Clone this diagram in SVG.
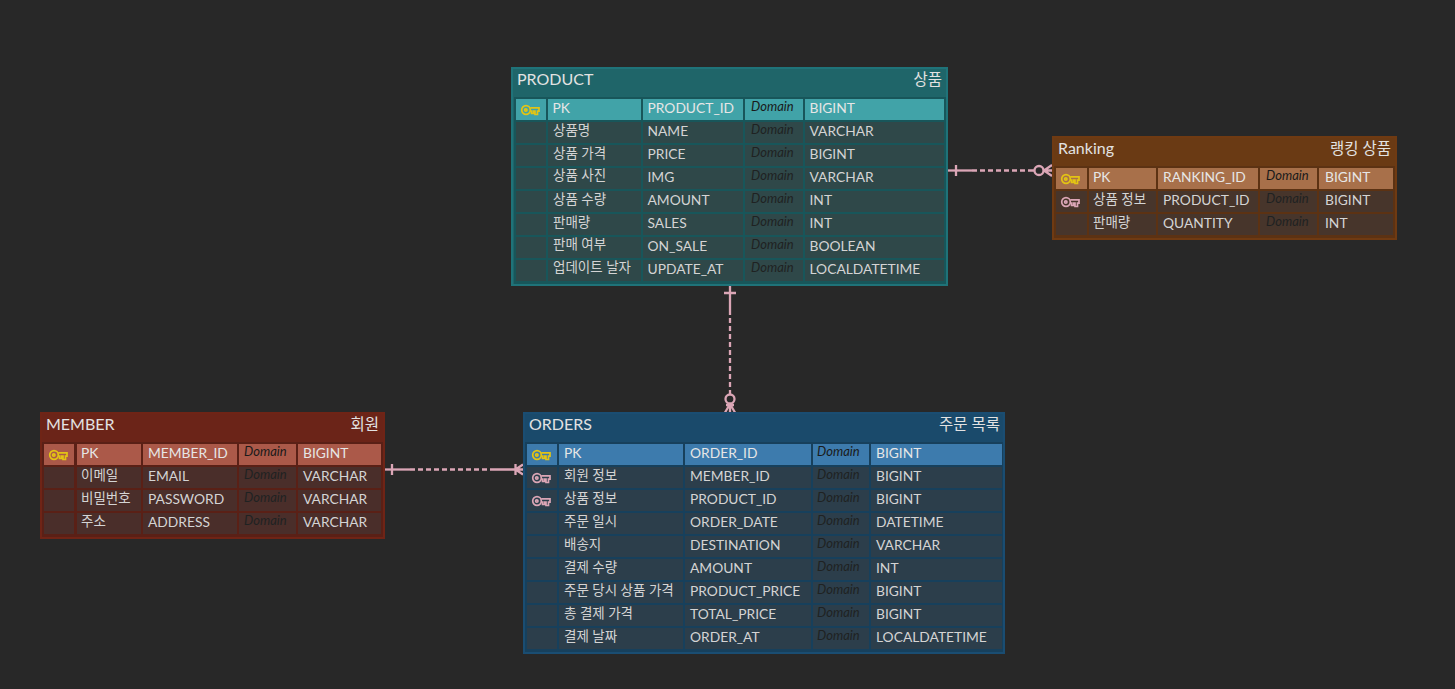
<svg xmlns="http://www.w3.org/2000/svg" width="1455" height="689" viewBox="0 0 1455 689">
<style>
text{font-family:Lato,"Noto Sans CJK KR",sans-serif;font-size:13.8px;fill:#d4d4d4}
.k{font-size:13.5px}
.h{font-size:16px;fill:#e2e2e2}
.e{text-anchor:end;font-size:15.500px}
.d{font-style:italic;font-size:13px;fill:#1f2222}
.p{fill:#e6e6e6}
.pd{fill:#1a1a1a}
.key{fill:none;stroke-width:1.7}
.ky{stroke:#e3c414}
.kp{stroke:#dba6b6}
.c{fill:none;stroke:#dba6b6;stroke-width:2.300}
.ds{stroke-dasharray:5 3}
.prod-row{fill:#2f4849}.prod-pk{fill:#41a3a8}
.rank-row{fill:#47352b}.rank-pk{fill:#a8704a}
.mem-row{fill:#4a2e2a}.mem-pk{fill:#ab5949}
.ord-row{fill:#2c3e4b}.ord-pk{fill:#3d7bad}
</style>
<defs>
<g id="k"><circle cx="5" cy="5" r="4.300"/><circle cx="4.800" cy="5" r="1.200"/><path d="M9.200 2.800H18V6.200H16.500V9.500H14V6.200H12.500V8.500H10.500V6.200H9.200"/></g>
<g id="r-prod"><rect x="516" width="30" height="21"/><rect x="548" width="93" height="21"/><rect x="643" width="100" height="21"/><rect x="745" width="58" height="21"/><rect x="805" width="139" height="21"/></g>
<g id="r-rank"><rect x="1056" width="31" height="21"/><rect x="1089" width="67" height="21"/><rect x="1158" width="100" height="21"/><rect x="1260" width="57" height="21"/><rect x="1319" width="74" height="21"/></g>
<g id="r-mem"><rect x="44" width="30" height="21"/><rect x="77" width="64" height="21"/><rect x="143" width="94" height="21"/><rect x="239" width="57" height="21"/><rect x="298" width="83" height="21"/></g>
<g id="r-ord"><rect x="527" width="30" height="21"/><rect x="559" width="124" height="21"/><rect x="685" width="126" height="21"/><rect x="813" width="56" height="21"/><rect x="871" width="131" height="21"/></g>
</defs>
<rect width="1455" height="689" fill="#282828"/>

<g id="connectors">
<g id="product-ranking"><path class="c" d="M948 170.500H972"/><path class="c ds" d="M972 170.500H1030"/><path class="c" d="M1030 170.500H1034.500M956 165V176M1044 170.500L1052 165M1044 170.500L1052 176M1044 170.500H1052"/><circle class="c" cx="1039" cy="170.500" r="4.500"/></g>
<g id="product-orders"><path class="c" d="M730 286V310"/><path class="c ds" d="M730 310V390"/><path class="c" d="M730 390V394.500M724 293H736M730 404L725 412.500M730 404L735 412.500M730 404V412.500M726 405H734"/><circle class="c" cx="730" cy="399" r="4.500"/></g>
<g id="member-orders"><path class="c" d="M385 469.500H410"/><path class="c ds" d="M410 469.500H495"/><path class="c" d="M495 469.500H523M392 464V475M515.500 464V475M515.500 469.500L523 464.500M515.500 469.500L523 474.500"/></g>
</g>

<g id="product">
<rect x="512" y="68" width="435" height="217" fill="#1f6569" stroke="#1f7379" stroke-width="2"/>
<rect x="514" y="97" width="432" height="187" fill="#18565a"/>
<use href="#r-prod" y="99" class="prod-pk"/>
<use href="#r-prod" y="122" class="prod-row"/><use href="#r-prod" y="145" class="prod-row"/><use href="#r-prod" y="168" class="prod-row"/><use href="#r-prod" y="191" class="prod-row"/><use href="#r-prod" y="214" class="prod-row"/><use href="#r-prod" y="237" class="prod-row"/><use href="#r-prod" y="260" class="prod-row"/>
<text class="h" x="517" y="85">PRODUCT</text><text class="h e" x="942" y="85">상품</text>
<use href="#k" x="521" y="105" class="key ky"/>
<text class="p" x="552.500" y="112.500">PK</text><text class="p" x="647.500" y="112.500">PRODUCT_ID</text><text class="d pd" x="751" y="111">Domain</text><text class="p" x="809.500" y="112.500">BIGINT</text>
<text class="k" x="553" y="135">상품명</text><text x="647.500" y="135.500">NAME</text><text class="d" x="751" y="134">Domain</text><text x="809.500" y="135.500">VARCHAR</text>
<text class="k" x="553" y="158">상품 가격</text><text x="647.500" y="158.500">PRICE</text><text class="d" x="751" y="157">Domain</text><text x="809.500" y="158.500">BIGINT</text>
<text class="k" x="553" y="180">상품 사진</text><text x="647.500" y="181.500">IMG</text><text class="d" x="751" y="180">Domain</text><text x="809.500" y="181.500">VARCHAR</text>
<text class="k" x="553" y="204">상품 수량</text><text x="647.500" y="204.500">AMOUNT</text><text class="d" x="751" y="203">Domain</text><text x="809.500" y="204.500">INT</text>
<text class="k" x="553" y="227">판매량</text><text x="647.500" y="227.500">SALES</text><text class="d" x="751" y="226">Domain</text><text x="809.500" y="227.500">INT</text>
<text class="k" x="553" y="249">판매 여부</text><text x="647.500" y="250.500">ON_SALE</text><text class="d" x="751" y="249">Domain</text><text x="809.500" y="250.500">BOOLEAN</text>
<text class="k" x="553" y="272">업데이트 날자</text><text x="647.500" y="273.500">UPDATE_AT</text><text class="d" x="751" y="272">Domain</text><text x="809.500" y="273.500">LOCALDATETIME</text>
</g>

<g id="ranking">
<rect x="1053" y="137" width="343" height="102" fill="#6a3a14" stroke="#6f3a12" stroke-width="2"/>
<rect x="1054" y="166" width="341" height="72" fill="#5c3213"/>
<use href="#r-rank" y="168" class="rank-pk"/><use href="#r-rank" y="191" class="rank-row"/><use href="#r-rank" y="214" class="rank-row"/>
<text class="h" x="1058" y="154">Ranking</text><text class="h e" x="1391" y="154">랭킹 상품</text>
<use href="#k" x="1061" y="174" class="key ky"/><use href="#k" x="1061" y="197" class="key kp"/>
<text class="p" x="1093" y="181.500">PK</text><text class="p" x="1163" y="181.500">RANKING_ID</text><text class="d pd" x="1266" y="180">Domain</text><text class="p" x="1325" y="181.500">BIGINT</text>
<text class="k" x="1093" y="204">상품 정보</text><text x="1163" y="204.500">PRODUCT_ID</text><text class="d" x="1266" y="203">Domain</text><text x="1325" y="204.500">BIGINT</text>
<text class="k" x="1093" y="227">판매량</text><text x="1163" y="227.500">QUANTITY</text><text class="d" x="1266" y="226">Domain</text><text x="1325" y="227.500">INT</text>
</g>

<g id="member">
<rect x="41" y="413" width="343" height="125" fill="#6b2418" stroke="#6f2416" stroke-width="2"/>
<rect x="42" y="442" width="341" height="95" fill="#5a2016"/>
<use href="#r-mem" y="444" class="mem-pk"/><use href="#r-mem" y="467" class="mem-row"/><use href="#r-mem" y="490" class="mem-row"/><use href="#r-mem" y="513" class="mem-row"/>
<text class="h" x="46" y="430">MEMBER</text><text class="h e" x="379" y="430">회원</text>
<use href="#k" x="49" y="450" class="key ky"/>
<text class="p" x="81" y="457.500">PK</text><text class="p" x="148" y="457.500">MEMBER_ID</text><text class="d pd" x="244" y="456">Domain</text><text class="p" x="303" y="457.500">BIGINT</text>
<text class="k" x="81" y="480">이메일</text><text x="148" y="480.500">EMAIL</text><text class="d" x="244" y="479">Domain</text><text x="303" y="480.500">VARCHAR</text>
<text class="k" x="81" y="503">비밀번호</text><text x="148" y="503.500">PASSWORD</text><text class="d" x="244" y="502">Domain</text><text x="303" y="503.500">VARCHAR</text>
<text class="k" x="81" y="526">주소</text><text x="148" y="526.500">ADDRESS</text><text class="d" x="244" y="525">Domain</text><text x="303" y="526.500">VARCHAR</text>
</g>

<g id="orders">
<rect x="524" y="413" width="480" height="240" fill="#1a4a6b" stroke="#1a4d72" stroke-width="2"/>
<rect x="525" y="442" width="478" height="210" fill="#17405c"/>
<use href="#r-ord" y="444" class="ord-pk"/><use href="#r-ord" y="467" class="ord-row"/><use href="#r-ord" y="490" class="ord-row"/><use href="#r-ord" y="513" class="ord-row"/><use href="#r-ord" y="536" class="ord-row"/><use href="#r-ord" y="559" class="ord-row"/><use href="#r-ord" y="582" class="ord-row"/><use href="#r-ord" y="605" class="ord-row"/><use href="#r-ord" y="628" class="ord-row"/>
<text class="h" x="529" y="430">ORDERS</text><text class="h e" x="1000" y="430">주문 목록</text>
<use href="#k" x="532" y="450" class="key ky"/><use href="#k" x="532" y="473" class="key kp"/><use href="#k" x="532" y="496" class="key kp"/>
<text class="p" x="564" y="457.500">PK</text><text class="p" x="690" y="457.500">ORDER_ID</text><text class="d pd" x="817" y="456">Domain</text><text class="p" x="876" y="457.500">BIGINT</text>
<text class="k" x="564" y="480">회원 정보</text><text x="690" y="480.500">MEMBER_ID</text><text class="d" x="817" y="479">Domain</text><text x="876" y="480.500">BIGINT</text>
<text class="k" x="564" y="503">상품 정보</text><text x="690" y="503.500">PRODUCT_ID</text><text class="d" x="817" y="502">Domain</text><text x="876" y="503.500">BIGINT</text>
<text class="k" x="564" y="526">주문 일시</text><text x="690" y="526.500">ORDER_DATE</text><text class="d" x="817" y="525">Domain</text><text x="876" y="526.500">DATETIME</text>
<text class="k" x="564" y="549">배송지</text><text x="690" y="549.500">DESTINATION</text><text class="d" x="817" y="548">Domain</text><text x="876" y="549.500">VARCHAR</text>
<text class="k" x="564" y="572">결제 수량</text><text x="690" y="572.500">AMOUNT</text><text class="d" x="817" y="571">Domain</text><text x="876" y="572.500">INT</text>
<text class="k" x="564" y="595">주문 당시 상품 가격</text><text x="690" y="595.500">PRODUCT_PRICE</text><text class="d" x="817" y="594">Domain</text><text x="876" y="595.500">BIGINT</text>
<text class="k" x="564" y="618">총 결제 가격</text><text x="690" y="618.500">TOTAL_PRICE</text><text class="d" x="817" y="617">Domain</text><text x="876" y="618.500">BIGINT</text>
<text class="k" x="564" y="641">결제 날짜</text><text x="690" y="641.500">ORDER_AT</text><text class="d" x="817" y="640">Domain</text><text x="876" y="641.500">LOCALDATETIME</text>
</g>
</svg>
